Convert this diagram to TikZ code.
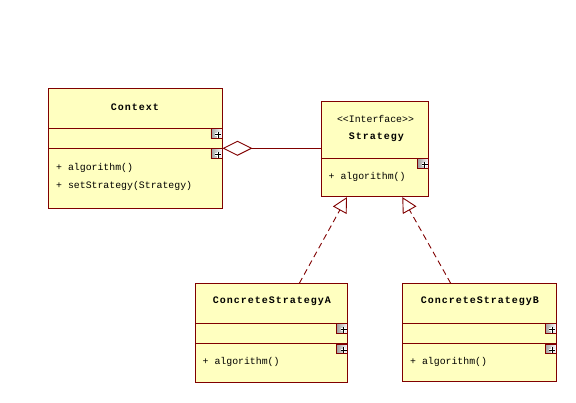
\documentclass[tikz,border=0pt]{standalone}
\usepackage{fontspec}
\newfontfamily\umlfont{Liberation Mono}
\newfontfamily\umlbold{Liberation Mono}[LetterSpace=10]
\usetikzlibrary{arrows.meta,calc}
\definecolor{umlfill}{RGB}{255,255,192}
\definecolor{umlline}{RGB}{128,0,0}
\newcommand{\umlicon}[1]{%
  \begin{scope}[shift={#1}]
    \shade[left color=gray!75,right color=white] (-11.5,0.5) rectangle (-0.5,10);
    \draw[umlline,line width=0.8pt] (-11.5,0.5) rectangle (-0.5,10);
    \draw[white,line width=2.4pt] (-7.2,6.3) -- (-1.6,6.3) (-4.4,3.5) -- (-4.4,9.3);
    \draw[black,line width=0.9pt] (-7.2,6.3) -- (-1.6,6.3) (-4.4,3.5) -- (-4.4,9.3);
  \end{scope}}
\begin{document}
\begin{tikzpicture}[x=1pt,y=-1pt,
  classbox/.style={draw=umlline,fill=umlfill,line width=0.9pt,inner sep=0pt,anchor=north west},
  cname/.style={font=\umlbold\bfseries\fontsize{10}{12}\selectfont,inner sep=0pt},
  member/.style={font=\umlfont\fontsize{9.85}{12}\selectfont,anchor=west,inner sep=0pt},
  divider/.style={draw=umlline,line width=0.9pt},
  realize/.style={draw=umlline,line width=0.9pt,dash pattern=on 6pt off 4pt,-{Triangle[open,length=15pt,width=15.5pt]}},
  aggreg/.style={draw=umlline,line width=0.9pt,{Diamond[open,length=30pt,width=15pt]}-}
]
\useasboundingbox (0,0) rectangle (576,402);
% boxes
\node[classbox,minimum width=173.5pt,minimum height=119.5pt] (ctx) at (48,88.3) {};
\node[classbox,minimum width=107.8pt,minimum height=95.5pt] (str) at (320.6,100.7) {};
\node[classbox,minimum width=152.3pt,minimum height=99pt] (csa) at (195,283.3) {};
\node[classbox,minimum width=153.4pt,minimum height=98pt] (csb) at (402.3,283.3) {};
% dividers
\draw[divider] ($(ctx.north west)+(0,40)$) -- ($(ctx.north east)+(0,40)$);
\draw[divider] ($(ctx.north west)+(0,60)$) -- ($(ctx.north east)+(0,60)$);
\draw[divider] ($(str.north west)+(0,57.6)$) -- ($(str.north east)+(0,57.6)$);
\draw[divider] ($(csa.north west)+(0,40)$) -- ($(csa.north east)+(0,40)$);
\draw[divider] ($(csa.north west)+(0,60.4)$) -- ($(csa.north east)+(0,60.4)$);
\draw[divider] ($(csb.north west)+(0,40)$) -- ($(csb.north east)+(0,40)$);
\draw[divider] ($(csb.north west)+(0,60.4)$) -- ($(csb.north east)+(0,60.4)$);
% texts
\node[cname] (ctxname) at (135,107) {Context};
\node[member] (ctxop1) at (56,168) {+ algorithm()};
\node[member] (ctxop2) at (56,186) {+ setStrategy(Strategy)};
\node[member,anchor=center] (strster) at (375.5,119) {<\kern0pt<Interface>\kern0pt>};
\node[cname] (strname) at (376.5,137.5) {Strategy};
\node[member] (strop) at (328.5,177) {+ algorithm()};
\node[cname] (csaname) at (272,301) {ConcreteStrategyA};
\node[member] (csaop) at (202.5,362) {+ algorithm()};
\node[cname] (csbname) at (480,301) {ConcreteStrategyB};
\node[member] (csbop) at (410,362) {+ algorithm()};
% connectors
\coordinate (aggA) at ($(ctx.north east)+(0,60)$);
\coordinate (aggB) at ($(str.north west)+(0,47.6)$);
\draw[aggreg] (aggA) -- (aggB);
\coordinate (ra) at ($(csa.north west)+(104.3,0)$);
\coordinate (rat) at ($(str.south west)+(26.4,0)$);
\draw[realize] (ra) -- (rat);
\coordinate (rb) at ($(csb.north west)+(48.4,0)$);
\coordinate (rbt) at ($(str.south west)+(81.7,0)$);
\draw[realize] (rb) -- (rbt);
% icons
\umlicon{($(ctx.north east)+(0,40)$)}
\umlicon{($(ctx.north east)+(0,60)$)}
\umlicon{($(str.north east)+(0,57.6)$)}
\umlicon{($(csa.north east)+(0,40)$)}
\umlicon{($(csa.north east)+(0,60.4)$)}
\umlicon{($(csb.north east)+(0,40)$)}
\umlicon{($(csb.north east)+(0,60.4)$)}
\end{tikzpicture}
\end{document}
